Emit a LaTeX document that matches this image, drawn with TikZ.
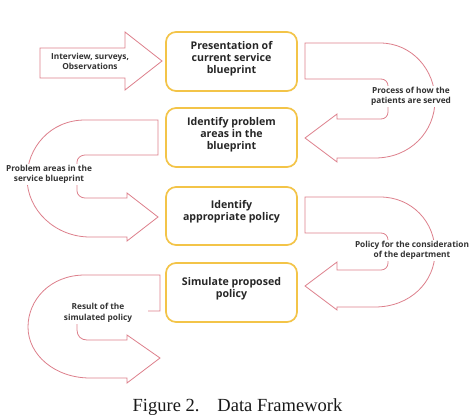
\documentclass[tikz,border=0pt]{standalone}
\usepackage{fontspec}
\setmainfont{Liberation Serif}
\newfontfamily\lblfont{Open Sans}
\usetikzlibrary{calc}
\definecolor{boxgold}{RGB}{243,196,72}
\definecolor{arrowpink}{RGB}{221,128,140}
\tikzset{
  stepbox/.style={draw=boxgold, line width=1.7pt, rounded corners=10pt, fill=white,
    minimum width=131pt, minimum height=59pt, inner sep=0pt},
  boxtxt/.style={font=\lblfont\fontsize{10.6}{12}\selectfont\bfseries, align=center, text=black!85},
  blockarrow/.style={draw=arrowpink, line width=0.8pt, line join=miter},
  lbl/.style={font=\lblfont\fontsize{8.3}{10.5}\selectfont\bfseries, align=center, text=black!80, fill=white, inner sep=1.2pt},
}
\begin{document}
\begin{tikzpicture}[x=1pt,y=-1pt]
\useasboundingbox (0,0) rectangle (474,420);
\fill[white] (0,0) rectangle (474,420);

% boxes
\node[stepbox] (b1) at (231.5,61.5) {};
\node[stepbox] (b2) at (231.5,137.5) {};
\node[stepbox, minimum height=58pt] (b3) at (231.5,216) {};
\node[stepbox] (b4) at (231.5,292.5) {};

\node[boxtxt] (t1) at (231.5,59) {Presentation of\\current service\\blueprint};
\node[boxtxt] (t2) at (231.5,135) {Identify problem\\areas in the\\blueprint};
\node[boxtxt] (t3) at (231.5,212) {Identify\\appropriate policy};
\node[boxtxt] (t4) at (231.5,288.5) {Simulate proposed\\policy};

% straight input arrow
\draw[blockarrow] (40,48) -- (125,48) -- (125,32) -- (162,61) -- (125,90) -- (125,78) -- (40,78) -- cycle;
\node[lbl, fill=none] (in) at (90,61.5) {Interview, surveys,\\Observations};

% right U-arrow 1 (b1 -> b2)
\draw[blockarrow] (305,43) -- (380,43) .. controls (412,43) and (435,70) .. (435,100)
  .. controls (435,132) and (410,158) .. (375,158) -- (337,158) -- (337,162) -- (305,138)
  -- (337,114) -- (337,119) -- (381,119) .. controls (385,119) and (388,116) .. (388,112)
  -- (388,86) .. controls (388,82) and (385,79) .. (381,79) -- (305,79) -- cycle;
\node[lbl] (l1) at (411,96.5) {Process of how the\\patients are served};

% left U-arrow 2 (b2 -> b3)
\draw[blockarrow] (158,120) -- (85,120) .. controls (50,120) and (27,148) .. (27,178)
  .. controls (27,210) and (55,237) .. (90,237) -- (127,237) -- (127,241) -- (158,217)
  -- (127,193) -- (127,198) -- (85,198) .. controls (81,198) and (77,195) .. (77,191)
  -- (77,162) .. controls (77,158) and (81,155) .. (85,155) -- (158,155) -- cycle;
\node[lbl] (l2) at (49,174.5) {Problem areas in the\\service blueprint};

% right U-arrow 3 (b3 -> b4)
\draw[blockarrow] (305,197) -- (380,197) .. controls (412,197) and (435,222) .. (435,252)
  .. controls (435,282) and (410,307) .. (375,307) -- (337,307) -- (337,310) -- (305,286)
  -- (337,262) -- (337,270) -- (381,270) .. controls (385,270) and (388,267) .. (388,263)
  -- (388,240) .. controls (388,236) and (385,233) .. (381,233) -- (305,233) -- cycle;
\node[lbl] (l3) at (412,250.5) {Policy for the consideration\\of the department};

% left U-arrow 4 (b4 -> out)
\draw[blockarrow] (160,275) -- (85,275) .. controls (50,275) and (28,300) .. (28,327)
  .. controls (28,355) and (55,378) .. (90,378) -- (127,378) -- (127,383) -- (160,358)
  -- (127,335) -- (127,340) -- (87,340) .. controls (81,340) and (77,336) .. (77,330)
  -- (77,320) .. controls (77,315) and (81,311) .. (87,311) -- (160,311) -- cycle;
\node[lbl, minimum width=100pt, minimum height=22pt] (l4) at (98,313) {Result of the\\simulated policy};

% caption
\node[font=\fontsize{18.5}{20}\selectfont, text=black!90] (cap) at (237.5,407) {Figure 2.\hspace{18pt}Data Framework};
\end{tikzpicture}
\end{document}
